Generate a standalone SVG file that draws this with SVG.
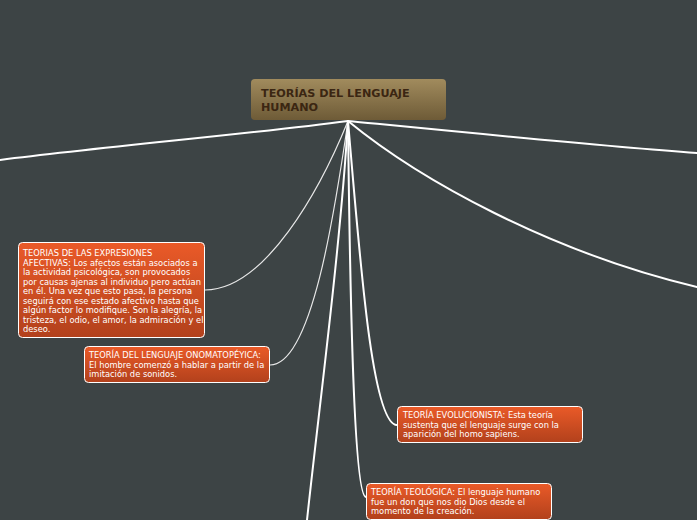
<svg xmlns="http://www.w3.org/2000/svg" width="697" height="520" viewBox="0 0 697 520">
<style>
.bg{fill:#3d4445}
.con{fill:none;stroke:#ffffff;stroke-linecap:round}
.w2{stroke-width:2}
.w1{stroke-width:1.2;stroke:#e8e8e8}
.box{fill:url(#og);stroke:#ffffff;stroke-width:1}
.t{font-family:"DejaVu Sans",Verdana,sans-serif;font-size:8.3px;fill:#ffffff}
.title{font-family:"DejaVu Sans",Verdana,sans-serif;font-size:11.2px;font-weight:bold;fill:#3b2612}
</style>
<defs>
<linearGradient id="og" x1="0" y1="0" x2="0" y2="1">
<stop offset="0" stop-color="#ea5a28"/>
<stop offset="1" stop-color="#b2411c"/>
</linearGradient>
<linearGradient id="bg1" x1="0" y1="0" x2="0" y2="1">
<stop offset="0" stop-color="#a18b5d"/>
<stop offset="1" stop-color="#6e5b37"/>
</linearGradient>
</defs>
<rect class="bg" x="0" y="0" width="697" height="520"/>
<g id="connectors">
<path class="con w2" d="M348,121 C 250,134 110,146 0,160"/>
<path class="con w2" d="M348,121 C 450,131 600,146 697,153"/>
<path class="con w2" d="M348,121 C 420,180 550,252 697,287"/>
<path class="con w1" d="M348,121 C 320,190 265,290 205,290"/>
<path class="con w1" d="M348,121 C 335,210 312,365 270,365"/>
<path class="con w2" d="M348,121 C 360,260 372,425 397,425"/>
<path class="con w2" d="M348,121 C 350,300 354,497 366,497"/>
<path class="con w2" d="M348,121 C 340,250 320,400 307,520"/>
</g>
<g id="root">
<rect x="251" y="79" width="195" height="41" rx="4" fill="url(#bg1)"/>
<text class="title" x="261" y="97">TEORÍAS DEL LENGUAJE</text>
<text class="title" x="261" y="111">HUMANO</text>
</g>
<g id="n1">
<rect class="box" x="18.5" y="242.5" width="186" height="95" rx="4"/>
<text class="t" x="23" y="256">TEORIAS DE LAS EXPRESIONES</text>
<text class="t" x="23" y="265.5">AFECTIVAS: Los afectos están asociados a</text>
<text class="t" x="23" y="275">la actividad psicológica, son provocados</text>
<text class="t" x="23" y="284.5">por causas ajenas al individuo pero actúan</text>
<text class="t" x="23" y="294">en él. Una vez que esto pasa, la persona</text>
<text class="t" x="23" y="303.5">seguirá con ese estado afectivo hasta que</text>
<text class="t" x="23" y="313">algún factor lo modifique. Son la alegría, la</text>
<text class="t" x="23" y="322.5">tristeza, el odio, el amor, la admiración y el</text>
<text class="t" x="23" y="332">deseo.</text>
</g>
<g id="n2">
<rect class="box" x="84.5" y="346.5" width="185" height="36" rx="4"/>
<text class="t" x="89" y="358">TEORÍA DEL LENGUAJE ONOMATOPÉYICA:</text>
<text class="t" x="89" y="367.5">El hombre comenzó a hablar a partir de la</text>
<text class="t" x="89" y="377">imitación de sonidos.</text>
</g>
<g id="n3">
<rect class="box" x="397.5" y="406.5" width="185" height="36" rx="4"/>
<text class="t" x="403" y="418">TEORÍA EVOLUCIONISTA: Esta teoría</text>
<text class="t" x="403" y="427.5">sustenta que el lenguaje surge con la</text>
<text class="t" x="403" y="437">aparición del homo sapiens.</text>
</g>
<g id="n4">
<rect class="box" x="366.5" y="483.5" width="185" height="36" rx="4"/>
<text class="t" x="371" y="495">TEORÍA TEOLÓGICA: El lenguaje humano</text>
<text class="t" x="371" y="504.5">fue un don que nos dio Dios desde el</text>
<text class="t" x="371" y="514">momento de la creación.</text>
</g>
</svg>
